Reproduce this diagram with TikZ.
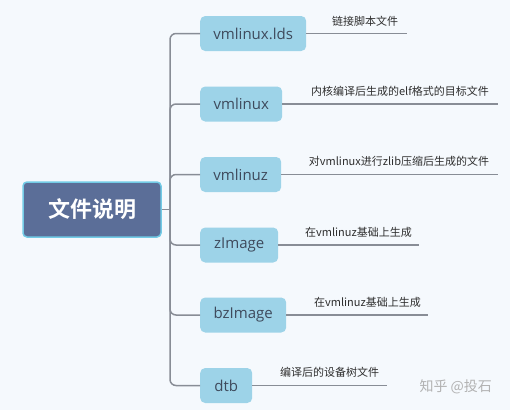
\documentclass[tikz,border=0pt]{standalone}
\usepackage{fontspec}
\setmainfont{Open Sans}
\newfontfamily\cjk{Noto Sans CJK SC}[BoldFont={Noto Sans CJK SC Bold}]
\definecolor{bgc}{HTML}{F5F9FD}
\definecolor{linec}{HTML}{888D96}
\definecolor{rootfill}{HTML}{5B6E98}
\definecolor{rootborder}{HTML}{72CBE6}
\definecolor{childfill}{HTML}{9DD3E8}
\definecolor{childtext}{HTML}{3E4A5C}
\definecolor{labtext}{HTML}{2E2E2E}
\tikzset{
  rootbox/.style={draw=rootborder, line width=1.5pt, fill=rootfill, rounded corners=4pt,
    minimum width=138pt, minimum height=55pt, text=white, font=\cjk\bfseries\fontsize{22}{24}\selectfont},
  childbox/.style={fill=childfill, rounded corners=5pt, minimum height=35pt, inner xsep=0pt,
    text=childtext, font=\fontsize{15}{17}\selectfont, anchor=west},
  conn/.style={draw=linec, line width=1.5pt, rounded corners=6pt},
  labline/.style={draw=linec, line width=1.2pt},
  lab/.style={font=\cjk\fontsize{11}{13}\selectfont, text=labtext, anchor=base},
}
\begin{document}
\begin{tikzpicture}[x=1pt,y=-1pt]
\fill[bgc] (0,0) rectangle (510,410);
\useasboundingbox (0,0) rectangle (510,410);
% root
\node[rootbox] (root) at (92,209.5) {文件说明};
\coordinate (junc) at (170,209.5);
\draw[conn] (root.east) -- (junc);
% children
\node[childbox, minimum width=106pt] (c1) at (200,33.5) {vmlinux.lds};
\node[childbox, minimum width=82pt] (c2) at (200,104) {vmlinux};
\node[childbox, minimum width=81pt] (c3) at (200,174.5) {vmlinuz};
\node[childbox, minimum width=78pt] (c4) at (200,245) {zImage};
\node[childbox, minimum width=86pt] (c5) at (200,315) {bzImage};
\node[childbox, minimum width=52pt] (c6) at (200,385.5) {dtb};
\foreach \c in {c1,c2,c3,c4,c5,c6}{
  \draw[conn] (junc) -- (junc |- \c.west) -- (\c.west);
}
% label line ends
\coordinate (e1) at (407,33.5);
\coordinate (e2) at (498,104);
\coordinate (e3) at (498,174.5);
\coordinate (e4) at (419,245);
\coordinate (e5) at (428,315);
\coordinate (e6) at (387,385.5);
\draw[labline] (c1.east) -- (e1);
\draw[labline] (c2.east) -- (e2);
\draw[labline] (c3.east) -- (e3);
\draw[labline] (c4.east) -- (e4);
\draw[labline] (c5.east) -- (e5);
\draw[labline] (c6.east) -- (e6);
\node[lab] (l1) at (365,25) {链接脚本文件};
\node[lab] (l2) at (400,95) {内核编译后生成的elf格式的目标文件};
\node[lab] (l3) at (399,165.5) {对vmlinux进行zlib压缩后生成的文件};
\node[lab] (l4) at (358.5,236) {在vmlinuz基础上生成};
\node[lab] (l5) at (367.5,306) {在vmlinuz基础上生成};
\node[lab] (l6) at (329.5,376.5) {编译后的设备树文件};
% watermark
\node[font=\cjk\fontsize{14}{16}\selectfont, text=black!30, anchor=west] (wm) at (416,387) {知乎 @投石};
\end{tikzpicture}
\end{document}
